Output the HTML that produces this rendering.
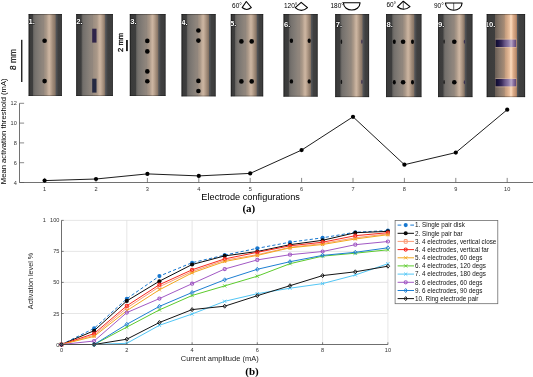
<!DOCTYPE html><html><head><meta charset="utf-8"><title>Electrode configurations</title>
<style>html,body{margin:0;padding:0;background:#fff}svg{display:block}text{font-family:"Liberation Sans",Arial,sans-serif}.ser{font-family:"Liberation Serif","Times New Roman",serif;font-weight:bold}</style></head><body>
<svg width="533" height="377" viewBox="0 0 533 377">
<rect width="533" height="377" fill="#fff"/>
<defs><linearGradient id="g0" x1="0" y1="0" x2="1" y2="0"><stop offset="0.0%" stop-color="#303030"/><stop offset="4.5%" stop-color="#3b3b3b"/><stop offset="11.7%" stop-color="#3e3e3e"/><stop offset="14.4%" stop-color="#64625f"/><stop offset="18.6%" stop-color="#74706c"/><stop offset="30.6%" stop-color="#827c76"/><stop offset="41.1%" stop-color="#8f857c"/><stop offset="45.6%" stop-color="#91867d"/><stop offset="46.5%" stop-color="#998c80"/><stop offset="53.2%" stop-color="#aa9888"/><stop offset="59.2%" stop-color="#c4ae9b"/><stop offset="62.2%" stop-color="#ccb5a1"/><stop offset="66.7%" stop-color="#bca591"/><stop offset="72.7%" stop-color="#a08b79"/><stop offset="79.9%" stop-color="#887565"/><stop offset="82.3%" stop-color="#54565a"/><stop offset="87.1%" stop-color="#464748"/><stop offset="88.9%" stop-color="#404040"/><stop offset="100.0%" stop-color="#3c3c3c"/></linearGradient><linearGradient id="g1" x1="0" y1="0" x2="1" y2="0"><stop offset="0.0%" stop-color="#303030"/><stop offset="4.1%" stop-color="#3b3b3b"/><stop offset="13.6%" stop-color="#3e3e3e"/><stop offset="16.1%" stop-color="#64625f"/><stop offset="19.9%" stop-color="#74706c"/><stop offset="30.8%" stop-color="#827c76"/><stop offset="40.3%" stop-color="#8f857c"/><stop offset="44.4%" stop-color="#91867d"/><stop offset="45.2%" stop-color="#998c80"/><stop offset="56.7%" stop-color="#aa9888"/><stop offset="62.1%" stop-color="#c4ae9b"/><stop offset="64.9%" stop-color="#ccb5a1"/><stop offset="68.9%" stop-color="#bca591"/><stop offset="74.4%" stop-color="#a08b79"/><stop offset="77.9%" stop-color="#887565"/><stop offset="80.1%" stop-color="#54565a"/><stop offset="84.5%" stop-color="#464748"/><stop offset="86.1%" stop-color="#404040"/><stop offset="100.0%" stop-color="#3c3c3c"/></linearGradient><linearGradient id="g2" x1="0" y1="0" x2="1" y2="0"><stop offset="0.0%" stop-color="#303030"/><stop offset="4.2%" stop-color="#3b3b3b"/><stop offset="16.5%" stop-color="#3e3e3e"/><stop offset="19.0%" stop-color="#64625f"/><stop offset="22.9%" stop-color="#74706c"/><stop offset="34.1%" stop-color="#827c76"/><stop offset="43.9%" stop-color="#8f857c"/><stop offset="48.0%" stop-color="#91867d"/><stop offset="48.9%" stop-color="#998c80"/><stop offset="55.3%" stop-color="#aa9888"/><stop offset="60.9%" stop-color="#c4ae9b"/><stop offset="63.7%" stop-color="#ccb5a1"/><stop offset="67.9%" stop-color="#bca591"/><stop offset="73.5%" stop-color="#a08b79"/><stop offset="78.5%" stop-color="#887565"/><stop offset="80.7%" stop-color="#54565a"/><stop offset="85.2%" stop-color="#464748"/><stop offset="86.9%" stop-color="#404040"/><stop offset="100.0%" stop-color="#3c3c3c"/></linearGradient><linearGradient id="g3" x1="0" y1="0" x2="1" y2="0"><stop offset="0.0%" stop-color="#303030"/><stop offset="4.4%" stop-color="#3b3b3b"/><stop offset="14.3%" stop-color="#3e3e3e"/><stop offset="17.0%" stop-color="#64625f"/><stop offset="21.1%" stop-color="#74706c"/><stop offset="32.7%" stop-color="#827c76"/><stop offset="43.0%" stop-color="#8f857c"/><stop offset="47.4%" stop-color="#91867d"/><stop offset="48.2%" stop-color="#998c80"/><stop offset="54.7%" stop-color="#aa9888"/><stop offset="60.5%" stop-color="#c4ae9b"/><stop offset="63.5%" stop-color="#ccb5a1"/><stop offset="67.8%" stop-color="#bca591"/><stop offset="73.7%" stop-color="#a08b79"/><stop offset="78.9%" stop-color="#887565"/><stop offset="81.3%" stop-color="#54565a"/><stop offset="86.0%" stop-color="#464748"/><stop offset="87.7%" stop-color="#404040"/><stop offset="100.0%" stop-color="#3c3c3c"/></linearGradient><linearGradient id="g4" x1="0" y1="0" x2="1" y2="0"><stop offset="0.0%" stop-color="#303030"/><stop offset="4.6%" stop-color="#3b3b3b"/><stop offset="11.7%" stop-color="#3e3e3e"/><stop offset="14.5%" stop-color="#64625f"/><stop offset="18.8%" stop-color="#74706c"/><stop offset="31.2%" stop-color="#827c76"/><stop offset="42.0%" stop-color="#8f857c"/><stop offset="46.6%" stop-color="#91867d"/><stop offset="47.5%" stop-color="#998c80"/><stop offset="53.1%" stop-color="#aa9888"/><stop offset="59.3%" stop-color="#c4ae9b"/><stop offset="62.3%" stop-color="#ccb5a1"/><stop offset="67.0%" stop-color="#bca591"/><stop offset="73.1%" stop-color="#a08b79"/><stop offset="78.7%" stop-color="#887565"/><stop offset="81.2%" stop-color="#54565a"/><stop offset="86.1%" stop-color="#464748"/><stop offset="88.0%" stop-color="#404040"/><stop offset="100.0%" stop-color="#3c3c3c"/></linearGradient><linearGradient id="g5" x1="0" y1="0" x2="1" y2="0"><stop offset="0.0%" stop-color="#303030"/><stop offset="4.4%" stop-color="#3b3b3b"/><stop offset="14.3%" stop-color="#3e3e3e"/><stop offset="17.0%" stop-color="#64625f"/><stop offset="21.1%" stop-color="#74706c"/><stop offset="32.7%" stop-color="#827c76"/><stop offset="43.0%" stop-color="#8f857c"/><stop offset="47.4%" stop-color="#91867d"/><stop offset="48.2%" stop-color="#998c80"/><stop offset="54.7%" stop-color="#aa9888"/><stop offset="60.5%" stop-color="#c4ae9b"/><stop offset="63.5%" stop-color="#ccb5a1"/><stop offset="67.8%" stop-color="#bca591"/><stop offset="73.7%" stop-color="#a08b79"/><stop offset="78.9%" stop-color="#887565"/><stop offset="81.3%" stop-color="#54565a"/><stop offset="86.0%" stop-color="#464748"/><stop offset="87.7%" stop-color="#404040"/><stop offset="100.0%" stop-color="#3c3c3c"/></linearGradient><linearGradient id="g6" x1="0" y1="0" x2="1" y2="0"><stop offset="0.0%" stop-color="#303030"/><stop offset="4.4%" stop-color="#3b3b3b"/><stop offset="14.2%" stop-color="#3e3e3e"/><stop offset="16.8%" stop-color="#64625f"/><stop offset="20.9%" stop-color="#74706c"/><stop offset="32.7%" stop-color="#827c76"/><stop offset="43.1%" stop-color="#8f857c"/><stop offset="47.5%" stop-color="#91867d"/><stop offset="48.4%" stop-color="#998c80"/><stop offset="53.7%" stop-color="#aa9888"/><stop offset="59.6%" stop-color="#c4ae9b"/><stop offset="62.5%" stop-color="#ccb5a1"/><stop offset="67.0%" stop-color="#bca591"/><stop offset="72.9%" stop-color="#a08b79"/><stop offset="79.4%" stop-color="#887565"/><stop offset="81.7%" stop-color="#54565a"/><stop offset="86.4%" stop-color="#464748"/><stop offset="88.2%" stop-color="#404040"/><stop offset="100.0%" stop-color="#3c3c3c"/></linearGradient><linearGradient id="g7" x1="0" y1="0" x2="1" y2="0"><stop offset="0.0%" stop-color="#303030"/><stop offset="4.2%" stop-color="#3b3b3b"/><stop offset="16.1%" stop-color="#3e3e3e"/><stop offset="18.6%" stop-color="#64625f"/><stop offset="22.6%" stop-color="#74706c"/><stop offset="33.9%" stop-color="#827c76"/><stop offset="43.8%" stop-color="#8f857c"/><stop offset="48.0%" stop-color="#91867d"/><stop offset="48.9%" stop-color="#998c80"/><stop offset="54.0%" stop-color="#aa9888"/><stop offset="59.6%" stop-color="#c4ae9b"/><stop offset="62.4%" stop-color="#ccb5a1"/><stop offset="66.7%" stop-color="#bca591"/><stop offset="72.3%" stop-color="#a08b79"/><stop offset="78.5%" stop-color="#887565"/><stop offset="80.8%" stop-color="#54565a"/><stop offset="85.3%" stop-color="#464748"/><stop offset="87.0%" stop-color="#404040"/><stop offset="100.0%" stop-color="#3c3c3c"/></linearGradient><linearGradient id="g8" x1="0" y1="0" x2="1" y2="0"><stop offset="0.0%" stop-color="#303030"/><stop offset="4.4%" stop-color="#3b3b3b"/><stop offset="14.2%" stop-color="#3e3e3e"/><stop offset="16.9%" stop-color="#64625f"/><stop offset="20.9%" stop-color="#74706c"/><stop offset="32.6%" stop-color="#827c76"/><stop offset="42.7%" stop-color="#8f857c"/><stop offset="47.1%" stop-color="#91867d"/><stop offset="48.0%" stop-color="#998c80"/><stop offset="53.2%" stop-color="#aa9888"/><stop offset="59.0%" stop-color="#c4ae9b"/><stop offset="61.9%" stop-color="#ccb5a1"/><stop offset="66.3%" stop-color="#bca591"/><stop offset="72.1%" stop-color="#a08b79"/><stop offset="76.2%" stop-color="#887565"/><stop offset="78.5%" stop-color="#54565a"/><stop offset="83.1%" stop-color="#464748"/><stop offset="84.9%" stop-color="#404040"/><stop offset="100.0%" stop-color="#3c3c3c"/></linearGradient><linearGradient id="g9" x1="0" y1="0" x2="1" y2="0"><stop offset="0.0%" stop-color="#303030"/><stop offset="3.9%" stop-color="#3b3b3b"/><stop offset="21.1%" stop-color="#3e3e3e"/><stop offset="22.9%" stop-color="#6c6057"/><stop offset="33.1%" stop-color="#88786b"/><stop offset="46.1%" stop-color="#a88c76"/><stop offset="47.4%" stop-color="#c09a7c"/><stop offset="52.9%" stop-color="#d4a988"/><stop offset="59.4%" stop-color="#eac09e"/><stop offset="63.3%" stop-color="#fcdcc0"/><stop offset="66.7%" stop-color="#ecc09e"/><stop offset="69.8%" stop-color="#d9aa88"/><stop offset="75.8%" stop-color="#c09070"/><stop offset="77.6%" stop-color="#b08464"/><stop offset="79.2%" stop-color="#565a60"/><stop offset="82.3%" stop-color="#484a4d"/><stop offset="83.9%" stop-color="#404040"/><stop offset="100.0%" stop-color="#3c3c3c"/></linearGradient><linearGradient id="sh" x1="0" y1="0" x2="0" y2="1"><stop offset="0" stop-color="#000" stop-opacity=".45"/><stop offset="1" stop-color="#000" stop-opacity="0"/></linearGradient><linearGradient id="ring" x1="0" y1="0" x2="1" y2="0"><stop offset="0" stop-color="#0e0b2c"/><stop offset=".13" stop-color="#1a1440"/><stop offset=".3" stop-color="#3a2c5c"/><stop offset=".46" stop-color="#6a5888"/><stop offset=".62" stop-color="#8c7aa6"/><stop offset=".76" stop-color="#b8a8c6"/><stop offset=".87" stop-color="#8a70a0"/><stop offset="1" stop-color="#5c4474"/></linearGradient></defs>
<rect x="28.6" y="14.0" width="33.3" height="82.0" fill="url(#g0)"/>
<rect x="28.6" y="14.0" width="33.3" height="1.6" fill="url(#sh)"/>
<rect x="28.6" y="14.0" width="0.9" height="82.0" fill="#000" opacity=".4"/>
<rect x="61.0" y="14.0" width="0.9" height="82.0" fill="#000" opacity=".3"/>
<rect x="28.6" y="95.1" width="33.3" height="0.9" fill="#000" opacity=".3"/>
<rect x="76.2" y="14.0" width="36.7" height="82.0" fill="url(#g1)"/>
<rect x="76.2" y="14.0" width="36.7" height="1.6" fill="url(#sh)"/>
<rect x="76.2" y="14.0" width="0.9" height="82.0" fill="#000" opacity=".4"/>
<rect x="112.0" y="14.0" width="0.9" height="82.0" fill="#000" opacity=".3"/>
<rect x="76.2" y="95.1" width="36.7" height="0.9" fill="#000" opacity=".3"/>
<rect x="129.8" y="14.0" width="35.8" height="82.0" fill="url(#g2)"/>
<rect x="129.8" y="14.0" width="35.8" height="1.6" fill="url(#sh)"/>
<rect x="129.8" y="14.0" width="0.9" height="82.0" fill="#000" opacity=".4"/>
<rect x="164.7" y="14.0" width="0.9" height="82.0" fill="#000" opacity=".3"/>
<rect x="129.8" y="95.1" width="35.8" height="0.9" fill="#000" opacity=".3"/>
<rect x="181.5" y="14.0" width="34.2" height="82.4" fill="url(#g3)"/>
<rect x="181.5" y="14.0" width="34.2" height="1.6" fill="url(#sh)"/>
<rect x="181.5" y="14.0" width="0.9" height="82.4" fill="#000" opacity=".4"/>
<rect x="214.8" y="14.0" width="0.9" height="82.4" fill="#000" opacity=".3"/>
<rect x="181.5" y="95.5" width="34.2" height="0.9" fill="#000" opacity=".3"/>
<rect x="230.8" y="14.0" width="32.4" height="82.4" fill="url(#g4)"/>
<rect x="230.8" y="14.0" width="32.4" height="1.6" fill="url(#sh)"/>
<rect x="230.8" y="14.0" width="0.9" height="82.4" fill="#000" opacity=".4"/>
<rect x="262.3" y="14.0" width="0.9" height="82.4" fill="#000" opacity=".3"/>
<rect x="230.8" y="95.5" width="32.4" height="0.9" fill="#000" opacity=".3"/>
<rect x="283.5" y="14.0" width="34.2" height="82.7" fill="url(#g5)"/>
<rect x="283.5" y="14.0" width="34.2" height="1.6" fill="url(#sh)"/>
<rect x="283.5" y="14.0" width="0.9" height="82.7" fill="#000" opacity=".4"/>
<rect x="316.8" y="14.0" width="0.9" height="82.7" fill="#000" opacity=".3"/>
<rect x="283.5" y="95.8" width="34.2" height="0.9" fill="#000" opacity=".3"/>
<rect x="335.2" y="14.0" width="33.9" height="83.1" fill="url(#g6)"/>
<rect x="335.2" y="14.0" width="33.9" height="1.6" fill="url(#sh)"/>
<rect x="335.2" y="14.0" width="0.9" height="83.1" fill="#000" opacity=".4"/>
<rect x="368.2" y="14.0" width="0.9" height="83.1" fill="#000" opacity=".3"/>
<rect x="335.2" y="96.2" width="33.9" height="0.9" fill="#000" opacity=".3"/>
<rect x="386.1" y="14.0" width="35.4" height="83.1" fill="url(#g7)"/>
<rect x="386.1" y="14.0" width="35.4" height="1.6" fill="url(#sh)"/>
<rect x="386.1" y="14.0" width="0.9" height="83.1" fill="#000" opacity=".4"/>
<rect x="420.6" y="14.0" width="0.9" height="83.1" fill="#000" opacity=".3"/>
<rect x="386.1" y="96.2" width="35.4" height="0.9" fill="#000" opacity=".3"/>
<rect x="438.1" y="14.0" width="34.4" height="83.1" fill="url(#g8)"/>
<rect x="438.1" y="14.0" width="34.4" height="1.6" fill="url(#sh)"/>
<rect x="438.1" y="14.0" width="0.9" height="83.1" fill="#000" opacity=".4"/>
<rect x="471.6" y="14.0" width="0.9" height="83.1" fill="#000" opacity=".3"/>
<rect x="438.1" y="96.2" width="34.4" height="0.9" fill="#000" opacity=".3"/>
<rect x="486.7" y="14.0" width="38.4" height="83.1" fill="url(#g9)"/>
<rect x="486.7" y="14.0" width="38.4" height="1.6" fill="url(#sh)"/>
<rect x="486.7" y="14.0" width="0.9" height="83.1" fill="#000" opacity=".4"/>
<rect x="524.2" y="14.0" width="0.9" height="83.1" fill="#000" opacity=".3"/>
<rect x="486.7" y="96.2" width="38.4" height="0.9" fill="#000" opacity=".3"/>
<ellipse cx="44.6" cy="40.7" rx="2.3" ry="2.3" fill="#050505"/>
<ellipse cx="44.6" cy="81.1" rx="2.3" ry="2.3" fill="#050505"/>
<rect x="92.2" y="28.7" width="4.3" height="13.9" fill="#30254a"/>
<rect x="92.2" y="78.7" width="4.3" height="13.9" fill="#262a42"/>
<ellipse cx="147.3" cy="40.9" rx="2.3" ry="2.3" fill="#050505"/>
<ellipse cx="147.3" cy="51.4" rx="2.3" ry="2.3" fill="#050505"/>
<ellipse cx="147.3" cy="71.4" rx="2.3" ry="2.3" fill="#050505"/>
<ellipse cx="147.3" cy="81.2" rx="2.3" ry="2.3" fill="#050505"/>
<ellipse cx="198.4" cy="30.5" rx="2.3" ry="2.3" fill="#050505"/>
<ellipse cx="198.4" cy="40.6" rx="2.3" ry="2.3" fill="#050505"/>
<ellipse cx="198.4" cy="80.9" rx="2.3" ry="2.3" fill="#050505"/>
<ellipse cx="198.4" cy="91.0" rx="2.3" ry="2.3" fill="#050505"/>
<ellipse cx="241.4" cy="41.4" rx="2.3" ry="2.3" fill="#050505"/>
<ellipse cx="251.7" cy="41.4" rx="2.3" ry="2.3" fill="#050505"/>
<ellipse cx="241.4" cy="81.4" rx="2.3" ry="2.3" fill="#050505"/>
<ellipse cx="251.7" cy="81.4" rx="2.3" ry="2.3" fill="#050505"/>
<ellipse cx="291.4" cy="40.7" rx="1.7" ry="2.2" fill="#050505"/>
<ellipse cx="309.2" cy="40.7" rx="1.6" ry="2.2" fill="#050505"/>
<ellipse cx="291.4" cy="81.4" rx="1.7" ry="2.2" fill="#050505"/>
<ellipse cx="309.2" cy="81.4" rx="1.6" ry="2.2" fill="#050505"/>
<ellipse cx="341.4" cy="41.7" rx="0.8" ry="2.2" fill="#151515"/>
<ellipse cx="361.9" cy="41.7" rx="0.7" ry="2.1" fill="#3a3052"/>
<ellipse cx="341.4" cy="81.9" rx="0.8" ry="2.2" fill="#151515"/>
<ellipse cx="361.9" cy="81.9" rx="0.7" ry="2.1" fill="#3a3052"/>
<ellipse cx="394.3" cy="41.7" rx="1.5" ry="2.2" fill="#050505"/>
<ellipse cx="403.1" cy="41.7" rx="2.3" ry="2.3" fill="#050505"/>
<ellipse cx="412.5" cy="41.7" rx="1.5" ry="2.2" fill="#050505"/>
<ellipse cx="394.3" cy="82.2" rx="1.5" ry="2.2" fill="#050505"/>
<ellipse cx="403.1" cy="82.2" rx="2.3" ry="2.3" fill="#050505"/>
<ellipse cx="412.5" cy="82.2" rx="1.5" ry="2.2" fill="#050505"/>
<ellipse cx="444.1" cy="41.7" rx="0.7" ry="2.1" fill="#1a1a1a"/>
<ellipse cx="454.3" cy="41.7" rx="2.3" ry="2.3" fill="#050505"/>
<ellipse cx="464.4" cy="41.7" rx="0.6" ry="2.0" fill="#3a3052"/>
<ellipse cx="444.1" cy="82.2" rx="0.7" ry="2.1" fill="#1a1a1a"/>
<ellipse cx="454.3" cy="82.2" rx="2.3" ry="2.3" fill="#050505"/>
<ellipse cx="464.4" cy="82.2" rx="0.6" ry="2.0" fill="#3a3052"/>
<rect x="495.5" y="38.7" width="20.9" height="9.3" fill="#f6d8b8" opacity=".45"/>
<rect x="495.5" y="39.6" width="20.7" height="7.5" fill="url(#ring)"/>
<rect x="495.5" y="78.0" width="20.9" height="9.3" fill="#f6d8b8" opacity=".45"/>
<rect x="495.5" y="78.9" width="20.7" height="7.5" fill="url(#ring)"/>
<clipPath id="c0"><rect x="28.6" y="14.0" width="33.3" height="82.0"/></clipPath>
<g clip-path="url(#c0)"><text x="28.6" y="23.9" font-size="7.7" font-weight="bold" fill="#fff" stroke="#151515" stroke-width=".9" paint-order="stroke" stroke-linejoin="round">1.</text></g>
<clipPath id="c1"><rect x="76.2" y="14.0" width="36.7" height="82.0"/></clipPath>
<g clip-path="url(#c1)"><text x="76.3" y="23.9" font-size="7.7" font-weight="bold" fill="#fff" stroke="#151515" stroke-width=".9" paint-order="stroke" stroke-linejoin="round">2.</text></g>
<clipPath id="c2"><rect x="129.8" y="14.0" width="35.8" height="82.0"/></clipPath>
<g clip-path="url(#c2)"><text x="130.2" y="24.1" font-size="7.7" font-weight="bold" fill="#fff" stroke="#151515" stroke-width=".9" paint-order="stroke" stroke-linejoin="round">3.</text></g>
<clipPath id="c3"><rect x="181.5" y="14.0" width="34.2" height="82.4"/></clipPath>
<g clip-path="url(#c3)"><text x="181.2" y="24.7" font-size="7.7" font-weight="bold" fill="#fff" stroke="#151515" stroke-width=".9" paint-order="stroke" stroke-linejoin="round">4.</text></g>
<clipPath id="c4"><rect x="230.8" y="14.0" width="32.4" height="82.4"/></clipPath>
<g clip-path="url(#c4)"><text x="230.0" y="25.8" font-size="7.7" font-weight="bold" fill="#fff" stroke="#151515" stroke-width=".9" paint-order="stroke" stroke-linejoin="round">5.</text></g>
<clipPath id="c5"><rect x="283.5" y="14.0" width="34.2" height="82.7"/></clipPath>
<g clip-path="url(#c5)"><text x="283.9" y="26.7" font-size="7.7" font-weight="bold" fill="#fff" stroke="#151515" stroke-width=".9" paint-order="stroke" stroke-linejoin="round">6.</text></g>
<clipPath id="c6"><rect x="335.2" y="14.0" width="33.9" height="83.1"/></clipPath>
<g clip-path="url(#c6)"><text x="335.8" y="26.7" font-size="7.7" font-weight="bold" fill="#fff" stroke="#151515" stroke-width=".9" paint-order="stroke" stroke-linejoin="round">7.</text></g>
<clipPath id="c7"><rect x="386.1" y="14.0" width="35.4" height="83.1"/></clipPath>
<g clip-path="url(#c7)"><text x="386.6" y="27.1" font-size="7.7" font-weight="bold" fill="#fff" stroke="#151515" stroke-width=".9" paint-order="stroke" stroke-linejoin="round">8.</text></g>
<clipPath id="c8"><rect x="438.1" y="14.0" width="34.4" height="83.1"/></clipPath>
<g clip-path="url(#c8)"><text x="438.1" y="27.1" font-size="7.7" font-weight="bold" fill="#fff" stroke="#151515" stroke-width=".9" paint-order="stroke" stroke-linejoin="round">9.</text></g>
<clipPath id="c9"><rect x="486.7" y="14.0" width="38.4" height="83.1"/></clipPath>
<g clip-path="url(#c9)"><text x="484.8" y="27.1" font-size="7.7" font-weight="bold" fill="#fff" stroke="#151515" stroke-width=".9" paint-order="stroke" stroke-linejoin="round">10.</text></g>
<rect x="21.1" y="39.8" width="1.3" height="42.2" fill="#111"/>
<text transform="translate(15.9,59.5) rotate(-90)" text-anchor="middle" font-size="8.3" fill="#111" stroke="#111" stroke-width=".2">8 mm</text>
<rect x="126.1" y="40" width="1.7" height="11.1" fill="#0a0a0a"/>
<text transform="translate(122.7,42.4) rotate(-90)" text-anchor="middle" font-size="7.6" fill="#0a0a0a" stroke="#0a0a0a" stroke-width=".3">2 mm</text>
<text x="232.1" y="7.6" font-size="6.5" fill="#000">60°</text>
<path d="M246.3 1.5 L242.2 7.5 Q246.7 11.4 251.3 7.5 Z" fill="none" stroke="#000" stroke-width="1.1" stroke-linejoin="round"/>
<text x="284" y="8" font-size="6.5" fill="#000">120°</text>
<path d="M301.2 2.3 L295.2 7.6 Q301.3 13.2 307.5 7.6 Z" fill="none" stroke="#000" stroke-width="1.1" stroke-linejoin="round"/>
<text x="330.5" y="7.7" font-size="6.5" fill="#000">180°</text>
<path d="M343.4 2.7 L360.1 2.7 C359.6 12.5 343.9 12.5 343.4 2.7 Z" fill="none" stroke="#000" stroke-width="1.1" stroke-linejoin="round"/>
<text x="386.4" y="6.9" font-size="6.5" fill="#000">60°</text>
<path d="M403.3 1.2 L397.4 6.8 Q403.7 11.8 410 6.6 Z" fill="none" stroke="#000" stroke-width="1.1" stroke-linejoin="round"/><path d="M403.3 1.2 V9.2" stroke="#000" stroke-width=".6"/>
<text x="434" y="8.2" font-size="6.5" fill="#000">90°</text>
<path d="M445.4 3 L462.1 3 C461.6 12.6 445.9 12.6 445.4 3 Z" fill="none" stroke="#000" stroke-width="1.1" stroke-linejoin="round"/><path d="M453.7 3 V10" stroke="#000" stroke-width=".6"/>
<path d="M19.5 103.3 V182.5 H533" fill="none" stroke="#585858" stroke-width=".85"/>
<path d="M19.5 182.5 h4.6" stroke="#585858" stroke-width=".7"/>
<text x="16.8" y="184.5" font-size="5.6" text-anchor="end" fill="#333">4</text>
<path d="M19.5 162.7 h4.6" stroke="#585858" stroke-width=".7"/>
<text x="16.8" y="164.7" font-size="5.6" text-anchor="end" fill="#333">6</text>
<path d="M19.5 142.9 h4.6" stroke="#585858" stroke-width=".7"/>
<text x="16.8" y="144.9" font-size="5.6" text-anchor="end" fill="#333">8</text>
<path d="M19.5 123.1 h4.6" stroke="#585858" stroke-width=".7"/>
<text x="16.8" y="125.1" font-size="5.6" text-anchor="end" fill="#333">10</text>
<path d="M19.5 103.3 h4.6" stroke="#585858" stroke-width=".7"/>
<text x="16.8" y="105.3" font-size="5.6" text-anchor="end" fill="#333">12</text>
<path d="M44.6 182.5 v-4.6" stroke="#585858" stroke-width=".7"/>
<text x="44.6" y="190.9" font-size="5.6" text-anchor="middle" fill="#333">1</text>
<path d="M96.0 182.5 v-4.6" stroke="#585858" stroke-width=".7"/>
<text x="96.0" y="190.9" font-size="5.6" text-anchor="middle" fill="#333">2</text>
<path d="M147.4 182.5 v-4.6" stroke="#585858" stroke-width=".7"/>
<text x="147.4" y="190.9" font-size="5.6" text-anchor="middle" fill="#333">3</text>
<path d="M198.8 182.5 v-4.6" stroke="#585858" stroke-width=".7"/>
<text x="198.8" y="190.9" font-size="5.6" text-anchor="middle" fill="#333">4</text>
<path d="M250.2 182.5 v-4.6" stroke="#585858" stroke-width=".7"/>
<text x="250.2" y="190.9" font-size="5.6" text-anchor="middle" fill="#333">5</text>
<path d="M301.6 182.5 v-4.6" stroke="#585858" stroke-width=".7"/>
<text x="301.6" y="190.9" font-size="5.6" text-anchor="middle" fill="#333">6</text>
<path d="M353.0 182.5 v-4.6" stroke="#585858" stroke-width=".7"/>
<text x="353.0" y="190.9" font-size="5.6" text-anchor="middle" fill="#333">7</text>
<path d="M404.4 182.5 v-4.6" stroke="#585858" stroke-width=".7"/>
<text x="404.4" y="190.9" font-size="5.6" text-anchor="middle" fill="#333">8</text>
<path d="M455.8 182.5 v-4.6" stroke="#585858" stroke-width=".7"/>
<text x="455.8" y="190.9" font-size="5.6" text-anchor="middle" fill="#333">9</text>
<path d="M507.2 182.5 v-4.6" stroke="#585858" stroke-width=".7"/>
<text x="507.2" y="190.9" font-size="5.6" text-anchor="middle" fill="#333">10</text>
<polyline points="44.6,180.6 96.0,179.0 147.4,173.9 198.8,175.9 250.2,173.4 301.6,150.1 353.0,116.8 404.4,164.7 455.8,152.6 507.2,109.7" fill="none" stroke="#111" stroke-width=".95"/>
<circle cx="44.6" cy="180.6" r="2.1" fill="#000"/>
<circle cx="96.0" cy="179.0" r="2.1" fill="#000"/>
<circle cx="147.4" cy="173.9" r="2.1" fill="#000"/>
<circle cx="198.8" cy="175.9" r="2.1" fill="#000"/>
<circle cx="250.2" cy="173.4" r="2.1" fill="#000"/>
<circle cx="301.6" cy="150.1" r="2.1" fill="#000"/>
<circle cx="353.0" cy="116.8" r="2.1" fill="#000"/>
<circle cx="404.4" cy="164.7" r="2.1" fill="#000"/>
<circle cx="455.8" cy="152.6" r="2.1" fill="#000"/>
<circle cx="507.2" cy="109.7" r="2.1" fill="#000"/>
<text transform="translate(6.0,131.3) rotate(-90)" text-anchor="middle" font-size="7.65" fill="#000">Mean activation threshold (mA)</text>
<text x="250.65" y="199.8" text-anchor="middle" font-size="9.2" fill="#000">Electrode configurations</text>
<text class="ser" x="248.8" y="211.5" text-anchor="middle" font-size="11" fill="#000">(a)</text>
<path d="M61.5 313.5 H387.9" stroke="#dfdfdf" stroke-width=".8"/>
<path d="M61.5 282.4 H387.9" stroke="#dfdfdf" stroke-width=".8"/>
<path d="M61.5 251.4 H387.9" stroke="#dfdfdf" stroke-width=".8"/>
<path d="M61.5 220.4 H387.9" stroke="#dfdfdf" stroke-width=".8"/>
<path d="M126.8 220.4 V344.5" stroke="#dfdfdf" stroke-width=".8"/>
<path d="M192.1 220.4 V344.5" stroke="#dfdfdf" stroke-width=".8"/>
<path d="M257.3 220.4 V344.5" stroke="#dfdfdf" stroke-width=".8"/>
<path d="M322.6 220.4 V344.5" stroke="#dfdfdf" stroke-width=".8"/>
<path d="M387.9 220.4 V344.5" stroke="#dfdfdf" stroke-width=".8"/>
<polyline points="61.5,344.5 94.1,328.4 126.8,298.7 159.4,276.1 192.1,262.7 224.7,255.1 257.3,248.3 290.0,242.2 322.6,237.8 355.3,232.2 387.9,230.6" fill="none" stroke="#1878d0" stroke-width="1.0" stroke-dasharray="3.2 2.2"/>
<circle cx="61.5" cy="344.5" r="2.05" fill="#1878d0"/>
<circle cx="94.1" cy="328.4" r="2.05" fill="#1878d0"/>
<circle cx="126.8" cy="298.7" r="2.05" fill="#1878d0"/>
<circle cx="159.4" cy="276.1" r="2.05" fill="#1878d0"/>
<circle cx="192.1" cy="262.7" r="2.05" fill="#1878d0"/>
<circle cx="224.7" cy="255.1" r="2.05" fill="#1878d0"/>
<circle cx="257.3" cy="248.3" r="2.05" fill="#1878d0"/>
<circle cx="290.0" cy="242.2" r="2.05" fill="#1878d0"/>
<circle cx="322.6" cy="237.8" r="2.05" fill="#1878d0"/>
<circle cx="355.3" cy="232.2" r="2.05" fill="#1878d0"/>
<circle cx="387.9" cy="230.6" r="2.05" fill="#1878d0"/>
<polyline points="61.5,344.5 94.1,330.7 126.8,300.9 159.4,281.2 192.1,264.5 224.7,255.9 257.3,251.5 290.0,244.7 322.6,240.3 355.3,232.7 387.9,231.4" fill="none" stroke="#0a0a0a" stroke-width="1.0"/>
<circle cx="61.5" cy="344.5" r="2.05" fill="#0a0a0a"/>
<circle cx="94.1" cy="330.7" r="2.05" fill="#0a0a0a"/>
<circle cx="126.8" cy="300.9" r="2.05" fill="#0a0a0a"/>
<circle cx="159.4" cy="281.2" r="2.05" fill="#0a0a0a"/>
<circle cx="192.1" cy="264.5" r="2.05" fill="#0a0a0a"/>
<circle cx="224.7" cy="255.9" r="2.05" fill="#0a0a0a"/>
<circle cx="257.3" cy="251.5" r="2.05" fill="#0a0a0a"/>
<circle cx="290.0" cy="244.7" r="2.05" fill="#0a0a0a"/>
<circle cx="322.6" cy="240.3" r="2.05" fill="#0a0a0a"/>
<circle cx="355.3" cy="232.7" r="2.05" fill="#0a0a0a"/>
<circle cx="387.9" cy="231.4" r="2.05" fill="#0a0a0a"/>
<polyline points="61.5,344.5 94.1,335.2 126.8,308.0 159.4,286.7 192.1,271.5 224.7,260.2 257.3,254.7 290.0,247.3 322.6,243.5 355.3,237.8 387.9,233.9" fill="none" stroke="#fa9a76" stroke-width="1.0"/>
<rect x="60.0" y="342.7" width="3" height="3.6" rx=".8" fill="none" stroke="#fa9a76" stroke-width="1.05"/>
<rect x="92.6" y="333.4" width="3" height="3.6" rx=".8" fill="none" stroke="#fa9a76" stroke-width="1.05"/>
<rect x="125.3" y="306.2" width="3" height="3.6" rx=".8" fill="none" stroke="#fa9a76" stroke-width="1.05"/>
<rect x="157.9" y="284.9" width="3" height="3.6" rx=".8" fill="none" stroke="#fa9a76" stroke-width="1.05"/>
<rect x="190.6" y="269.7" width="3" height="3.6" rx=".8" fill="none" stroke="#fa9a76" stroke-width="1.05"/>
<rect x="223.2" y="258.4" width="3" height="3.6" rx=".8" fill="none" stroke="#fa9a76" stroke-width="1.05"/>
<rect x="255.8" y="252.9" width="3" height="3.6" rx=".8" fill="none" stroke="#fa9a76" stroke-width="1.05"/>
<rect x="288.5" y="245.5" width="3" height="3.6" rx=".8" fill="none" stroke="#fa9a76" stroke-width="1.05"/>
<rect x="321.1" y="241.7" width="3" height="3.6" rx=".8" fill="none" stroke="#fa9a76" stroke-width="1.05"/>
<rect x="353.8" y="236.0" width="3" height="3.6" rx=".8" fill="none" stroke="#fa9a76" stroke-width="1.05"/>
<rect x="386.4" y="232.1" width="3" height="3.6" rx=".8" fill="none" stroke="#fa9a76" stroke-width="1.05"/>
<polyline points="61.5,344.5 94.1,333.6 126.8,305.8 159.4,284.7 192.1,269.8 224.7,258.9 257.3,252.3 290.0,245.8 322.6,242.2 355.3,235.7 387.9,232.7" fill="none" stroke="#f8281e" stroke-width="1.0"/>
<circle cx="61.5" cy="344.5" r="1.6" fill="none" stroke="#f8281e" stroke-width="1.05"/>
<circle cx="94.1" cy="333.6" r="1.6" fill="none" stroke="#f8281e" stroke-width="1.05"/>
<circle cx="126.8" cy="305.8" r="1.6" fill="none" stroke="#f8281e" stroke-width="1.05"/>
<circle cx="159.4" cy="284.7" r="1.6" fill="none" stroke="#f8281e" stroke-width="1.05"/>
<circle cx="192.1" cy="269.8" r="1.6" fill="none" stroke="#f8281e" stroke-width="1.05"/>
<circle cx="224.7" cy="258.9" r="1.6" fill="none" stroke="#f8281e" stroke-width="1.05"/>
<circle cx="257.3" cy="252.3" r="1.6" fill="none" stroke="#f8281e" stroke-width="1.05"/>
<circle cx="290.0" cy="245.8" r="1.6" fill="none" stroke="#f8281e" stroke-width="1.05"/>
<circle cx="322.6" cy="242.2" r="1.6" fill="none" stroke="#f8281e" stroke-width="1.05"/>
<circle cx="355.3" cy="235.7" r="1.6" fill="none" stroke="#f8281e" stroke-width="1.05"/>
<circle cx="387.9" cy="232.7" r="1.6" fill="none" stroke="#f8281e" stroke-width="1.05"/>
<polyline points="61.5,344.5 94.1,336.4 126.8,310.7 159.4,289.8 192.1,272.9 224.7,261.5 257.3,255.4 290.0,247.8 322.6,244.5 355.3,239.0 387.9,234.7" fill="none" stroke="#f2a81e" stroke-width="1.0"/>
<path d="M59.9 342.9 l3.2 3.2 m0 -3.2 l-3.2 3.2" fill="none" stroke="#f2a81e" stroke-width=".9"/>
<path d="M92.5 334.8 l3.2 3.2 m0 -3.2 l-3.2 3.2" fill="none" stroke="#f2a81e" stroke-width=".9"/>
<path d="M125.2 309.1 l3.2 3.2 m0 -3.2 l-3.2 3.2" fill="none" stroke="#f2a81e" stroke-width=".9"/>
<path d="M157.8 288.2 l3.2 3.2 m0 -3.2 l-3.2 3.2" fill="none" stroke="#f2a81e" stroke-width=".9"/>
<path d="M190.5 271.3 l3.2 3.2 m0 -3.2 l-3.2 3.2" fill="none" stroke="#f2a81e" stroke-width=".9"/>
<path d="M223.1 259.9 l3.2 3.2 m0 -3.2 l-3.2 3.2" fill="none" stroke="#f2a81e" stroke-width=".9"/>
<path d="M255.7 253.8 l3.2 3.2 m0 -3.2 l-3.2 3.2" fill="none" stroke="#f2a81e" stroke-width=".9"/>
<path d="M288.4 246.2 l3.2 3.2 m0 -3.2 l-3.2 3.2" fill="none" stroke="#f2a81e" stroke-width=".9"/>
<path d="M321.0 242.9 l3.2 3.2 m0 -3.2 l-3.2 3.2" fill="none" stroke="#f2a81e" stroke-width=".9"/>
<path d="M353.7 237.4 l3.2 3.2 m0 -3.2 l-3.2 3.2" fill="none" stroke="#f2a81e" stroke-width=".9"/>
<path d="M386.3 233.1 l3.2 3.2 m0 -3.2 l-3.2 3.2" fill="none" stroke="#f2a81e" stroke-width=".9"/>
<polyline points="61.5,344.5 94.1,344.5 126.8,327.1 159.4,309.9 192.1,295.5 224.7,285.9 257.3,276.2 290.0,263.7 322.6,256.1 355.3,253.2 387.9,249.8" fill="none" stroke="#5ccb2c" stroke-width="1.0"/>
<path d="M59.9 342.9 l3.2 3.2 m0 -3.2 l-3.2 3.2" fill="none" stroke="#5ccb2c" stroke-width=".9"/>
<path d="M92.5 342.9 l3.2 3.2 m0 -3.2 l-3.2 3.2" fill="none" stroke="#5ccb2c" stroke-width=".9"/>
<path d="M125.2 325.5 l3.2 3.2 m0 -3.2 l-3.2 3.2" fill="none" stroke="#5ccb2c" stroke-width=".9"/>
<path d="M157.8 308.3 l3.2 3.2 m0 -3.2 l-3.2 3.2" fill="none" stroke="#5ccb2c" stroke-width=".9"/>
<path d="M190.5 293.9 l3.2 3.2 m0 -3.2 l-3.2 3.2" fill="none" stroke="#5ccb2c" stroke-width=".9"/>
<path d="M223.1 284.3 l3.2 3.2 m0 -3.2 l-3.2 3.2" fill="none" stroke="#5ccb2c" stroke-width=".9"/>
<path d="M255.7 274.6 l3.2 3.2 m0 -3.2 l-3.2 3.2" fill="none" stroke="#5ccb2c" stroke-width=".9"/>
<path d="M288.4 262.1 l3.2 3.2 m0 -3.2 l-3.2 3.2" fill="none" stroke="#5ccb2c" stroke-width=".9"/>
<path d="M321.0 254.5 l3.2 3.2 m0 -3.2 l-3.2 3.2" fill="none" stroke="#5ccb2c" stroke-width=".9"/>
<path d="M353.7 251.6 l3.2 3.2 m0 -3.2 l-3.2 3.2" fill="none" stroke="#5ccb2c" stroke-width=".9"/>
<path d="M386.3 248.2 l3.2 3.2 m0 -3.2 l-3.2 3.2" fill="none" stroke="#5ccb2c" stroke-width=".9"/>
<polyline points="61.5,344.5 94.1,344.5 126.8,343.3 159.4,325.3 192.1,314.0 224.7,301.3 257.3,293.7 290.0,288.2 322.6,283.6 355.3,275.0 387.9,263.7" fill="none" stroke="#52c6f5" stroke-width="1.0"/>
<path d="M59.9 342.9 l3.2 3.2 m0 -3.2 l-3.2 3.2" fill="none" stroke="#52c6f5" stroke-width=".9"/>
<path d="M92.5 342.9 l3.2 3.2 m0 -3.2 l-3.2 3.2" fill="none" stroke="#52c6f5" stroke-width=".9"/>
<path d="M125.2 341.7 l3.2 3.2 m0 -3.2 l-3.2 3.2" fill="none" stroke="#52c6f5" stroke-width=".9"/>
<path d="M157.8 323.7 l3.2 3.2 m0 -3.2 l-3.2 3.2" fill="none" stroke="#52c6f5" stroke-width=".9"/>
<path d="M190.5 312.4 l3.2 3.2 m0 -3.2 l-3.2 3.2" fill="none" stroke="#52c6f5" stroke-width=".9"/>
<path d="M223.1 299.7 l3.2 3.2 m0 -3.2 l-3.2 3.2" fill="none" stroke="#52c6f5" stroke-width=".9"/>
<path d="M255.7 292.1 l3.2 3.2 m0 -3.2 l-3.2 3.2" fill="none" stroke="#52c6f5" stroke-width=".9"/>
<path d="M288.4 286.6 l3.2 3.2 m0 -3.2 l-3.2 3.2" fill="none" stroke="#52c6f5" stroke-width=".9"/>
<path d="M321.0 282.0 l3.2 3.2 m0 -3.2 l-3.2 3.2" fill="none" stroke="#52c6f5" stroke-width=".9"/>
<path d="M353.7 273.4 l3.2 3.2 m0 -3.2 l-3.2 3.2" fill="none" stroke="#52c6f5" stroke-width=".9"/>
<path d="M386.3 262.1 l3.2 3.2 m0 -3.2 l-3.2 3.2" fill="none" stroke="#52c6f5" stroke-width=".9"/>
<polyline points="61.5,344.5 94.1,341.0 126.8,312.6 159.4,298.6 192.1,283.7 224.7,269.0 257.3,259.9 290.0,254.7 322.6,251.5 355.3,244.7 387.9,241.5" fill="none" stroke="#a259c4" stroke-width="1.0"/>
<circle cx="61.5" cy="344.5" r="1.6" fill="none" stroke="#a259c4" stroke-width="1.05"/>
<circle cx="94.1" cy="341.0" r="1.6" fill="none" stroke="#a259c4" stroke-width="1.05"/>
<circle cx="126.8" cy="312.6" r="1.6" fill="none" stroke="#a259c4" stroke-width="1.05"/>
<circle cx="159.4" cy="298.6" r="1.6" fill="none" stroke="#a259c4" stroke-width="1.05"/>
<circle cx="192.1" cy="283.7" r="1.6" fill="none" stroke="#a259c4" stroke-width="1.05"/>
<circle cx="224.7" cy="269.0" r="1.6" fill="none" stroke="#a259c4" stroke-width="1.05"/>
<circle cx="257.3" cy="259.9" r="1.6" fill="none" stroke="#a259c4" stroke-width="1.05"/>
<circle cx="290.0" cy="254.7" r="1.6" fill="none" stroke="#a259c4" stroke-width="1.05"/>
<circle cx="322.6" cy="251.5" r="1.6" fill="none" stroke="#a259c4" stroke-width="1.05"/>
<circle cx="355.3" cy="244.7" r="1.6" fill="none" stroke="#a259c4" stroke-width="1.05"/>
<circle cx="387.9" cy="241.5" r="1.6" fill="none" stroke="#a259c4" stroke-width="1.05"/>
<polyline points="61.5,344.5 94.1,344.5 126.8,324.3 159.4,306.4 192.1,292.5 224.7,279.8 257.3,269.3 290.0,261.7 322.6,255.4 355.3,252.3 387.9,247.8" fill="none" stroke="#1e7fd2" stroke-width="1.0"/>
<path d="M61.5 342.5 l1.7 2.0 l-1.7 2.0 l-1.7 -2.0 Z" fill="none" stroke="#1e7fd2" stroke-width=".95"/>
<path d="M94.1 342.5 l1.7 2.0 l-1.7 2.0 l-1.7 -2.0 Z" fill="none" stroke="#1e7fd2" stroke-width=".95"/>
<path d="M126.8 322.3 l1.7 2.0 l-1.7 2.0 l-1.7 -2.0 Z" fill="none" stroke="#1e7fd2" stroke-width=".95"/>
<path d="M159.4 304.4 l1.7 2.0 l-1.7 2.0 l-1.7 -2.0 Z" fill="none" stroke="#1e7fd2" stroke-width=".95"/>
<path d="M192.1 290.5 l1.7 2.0 l-1.7 2.0 l-1.7 -2.0 Z" fill="none" stroke="#1e7fd2" stroke-width=".95"/>
<path d="M224.7 277.8 l1.7 2.0 l-1.7 2.0 l-1.7 -2.0 Z" fill="none" stroke="#1e7fd2" stroke-width=".95"/>
<path d="M257.3 267.3 l1.7 2.0 l-1.7 2.0 l-1.7 -2.0 Z" fill="none" stroke="#1e7fd2" stroke-width=".95"/>
<path d="M290.0 259.7 l1.7 2.0 l-1.7 2.0 l-1.7 -2.0 Z" fill="none" stroke="#1e7fd2" stroke-width=".95"/>
<path d="M322.6 253.4 l1.7 2.0 l-1.7 2.0 l-1.7 -2.0 Z" fill="none" stroke="#1e7fd2" stroke-width=".95"/>
<path d="M355.3 250.3 l1.7 2.0 l-1.7 2.0 l-1.7 -2.0 Z" fill="none" stroke="#1e7fd2" stroke-width=".95"/>
<path d="M387.9 245.8 l1.7 2.0 l-1.7 2.0 l-1.7 -2.0 Z" fill="none" stroke="#1e7fd2" stroke-width=".95"/>
<polyline points="61.5,344.5 94.1,344.5 126.8,339.2 159.4,322.5 192.1,309.6 224.7,306.2 257.3,295.7 290.0,285.7 322.6,275.6 355.3,271.8 387.9,266.2" fill="none" stroke="#141414" stroke-width="1.0"/>
<path d="M61.5 342.5 l1.7 2.0 l-1.7 2.0 l-1.7 -2.0 Z" fill="none" stroke="#141414" stroke-width=".95"/>
<path d="M94.1 342.5 l1.7 2.0 l-1.7 2.0 l-1.7 -2.0 Z" fill="none" stroke="#141414" stroke-width=".95"/>
<path d="M126.8 337.2 l1.7 2.0 l-1.7 2.0 l-1.7 -2.0 Z" fill="none" stroke="#141414" stroke-width=".95"/>
<path d="M159.4 320.5 l1.7 2.0 l-1.7 2.0 l-1.7 -2.0 Z" fill="none" stroke="#141414" stroke-width=".95"/>
<path d="M192.1 307.6 l1.7 2.0 l-1.7 2.0 l-1.7 -2.0 Z" fill="none" stroke="#141414" stroke-width=".95"/>
<path d="M224.7 304.2 l1.7 2.0 l-1.7 2.0 l-1.7 -2.0 Z" fill="none" stroke="#141414" stroke-width=".95"/>
<path d="M257.3 293.7 l1.7 2.0 l-1.7 2.0 l-1.7 -2.0 Z" fill="none" stroke="#141414" stroke-width=".95"/>
<path d="M290.0 283.7 l1.7 2.0 l-1.7 2.0 l-1.7 -2.0 Z" fill="none" stroke="#141414" stroke-width=".95"/>
<path d="M322.6 273.6 l1.7 2.0 l-1.7 2.0 l-1.7 -2.0 Z" fill="none" stroke="#141414" stroke-width=".95"/>
<path d="M355.3 269.8 l1.7 2.0 l-1.7 2.0 l-1.7 -2.0 Z" fill="none" stroke="#141414" stroke-width=".95"/>
<path d="M387.9 264.2 l1.7 2.0 l-1.7 2.0 l-1.7 -2.0 Z" fill="none" stroke="#141414" stroke-width=".95"/>
<path d="M61.5 220.4 V344.5 H387.9" fill="none" stroke="#555" stroke-width=".85"/>
<path d="M61.5 344.5 h2.2" stroke="#4a4a4a" stroke-width=".7"/>
<text x="59.4" y="346.5" font-size="5.6" text-anchor="end" fill="#333">0</text>
<path d="M61.5 313.5 h2.2" stroke="#4a4a4a" stroke-width=".7"/>
<text x="59.4" y="315.5" font-size="5.6" text-anchor="end" fill="#333">25</text>
<path d="M61.5 282.4 h2.2" stroke="#4a4a4a" stroke-width=".7"/>
<text x="59.4" y="284.4" font-size="5.6" text-anchor="end" fill="#333">50</text>
<path d="M61.5 251.4 h2.2" stroke="#4a4a4a" stroke-width=".7"/>
<text x="59.4" y="253.4" font-size="5.6" text-anchor="end" fill="#333">75</text>
<path d="M61.5 220.4 h2.2" stroke="#4a4a4a" stroke-width=".7"/>
<text x="59.4" y="222.4" font-size="5.6" text-anchor="end" fill="#333">100</text>
<path d="M61.5 344.5 v-2.2" stroke="#4a4a4a" stroke-width=".7"/>
<text x="61.5" y="352.4" font-size="5.6" text-anchor="middle" fill="#333">0</text>
<path d="M126.8 344.5 v-2.2" stroke="#4a4a4a" stroke-width=".7"/>
<text x="126.8" y="352.4" font-size="5.6" text-anchor="middle" fill="#333">2</text>
<path d="M192.1 344.5 v-2.2" stroke="#4a4a4a" stroke-width=".7"/>
<text x="192.1" y="352.4" font-size="5.6" text-anchor="middle" fill="#333">4</text>
<path d="M257.3 344.5 v-2.2" stroke="#4a4a4a" stroke-width=".7"/>
<text x="257.3" y="352.4" font-size="5.6" text-anchor="middle" fill="#333">6</text>
<path d="M322.6 344.5 v-2.2" stroke="#4a4a4a" stroke-width=".7"/>
<text x="322.6" y="352.4" font-size="5.6" text-anchor="middle" fill="#333">8</text>
<path d="M387.9 344.5 v-2.2" stroke="#4a4a4a" stroke-width=".7"/>
<text x="387.9" y="352.4" font-size="5.6" text-anchor="middle" fill="#333">10</text>
<text x="44.4" y="222.4" font-size="5.6" text-anchor="middle" fill="#333">1</text>
<text transform="translate(32.5,281) rotate(-90)" text-anchor="middle" font-size="7.2" fill="#222">Activation level %</text>
<text x="219.7" y="360.8" text-anchor="middle" font-size="7.5" fill="#222">Current amplitude (mA)</text>
<text class="ser" x="252" y="374.5" text-anchor="middle" font-size="11" fill="#000">(b)</text>
<rect x="395.1" y="220.5" width="102.7" height="83.2" fill="#fff" stroke="#666" stroke-width=".75"/>
<path d="M397.6 225.1 H414" stroke="#1878d0" stroke-width="1.0" stroke-dasharray="3.7 9 3.7"/>
<circle cx="405.7" cy="225.1" r="2.05" fill="#1878d0"/>
<text x="415.1" y="227.4" font-size="6.3" fill="#111">1. Single pair disk</text>
<path d="M397.6 233.3 H414" stroke="#0a0a0a" stroke-width="1.0"/>
<circle cx="405.7" cy="233.3" r="2.05" fill="#0a0a0a"/>
<text x="415.1" y="235.6" font-size="6.3" fill="#111">2. Single pair bar</text>
<path d="M397.6 241.4 H414" stroke="#fa9a76" stroke-width="1.0"/>
<rect x="404.2" y="239.6" width="3" height="3.6" rx=".8" fill="none" stroke="#fa9a76" stroke-width="1.05"/>
<text x="415.1" y="243.7" font-size="6.3" fill="#111">3. 4 electrodes, vertical close</text>
<path d="M397.6 249.6 H414" stroke="#f8281e" stroke-width="1.0"/>
<circle cx="405.7" cy="249.6" r="1.6" fill="none" stroke="#f8281e" stroke-width="1.05"/>
<text x="415.1" y="251.9" font-size="6.3" fill="#111">4. 4 electrodes, vertical far</text>
<path d="M397.6 257.8 H414" stroke="#f2a81e" stroke-width="1.0"/>
<path d="M404.1 256.2 l3.2 3.2 m0 -3.2 l-3.2 3.2" fill="none" stroke="#f2a81e" stroke-width=".9"/>
<text x="415.1" y="260.1" font-size="6.3" fill="#111">5. 4 electrodes, 60 degs</text>
<path d="M397.6 265.9 H414" stroke="#5ccb2c" stroke-width="1.0"/>
<path d="M404.1 264.3 l3.2 3.2 m0 -3.2 l-3.2 3.2" fill="none" stroke="#5ccb2c" stroke-width=".9"/>
<text x="415.1" y="268.2" font-size="6.3" fill="#111">6. 4 electrodes, 120 degs</text>
<path d="M397.6 274.1 H414" stroke="#52c6f5" stroke-width="1.0"/>
<path d="M404.1 272.5 l3.2 3.2 m0 -3.2 l-3.2 3.2" fill="none" stroke="#52c6f5" stroke-width=".9"/>
<text x="415.1" y="276.4" font-size="6.3" fill="#111">7. 4 electrodes, 180 degs</text>
<path d="M397.6 282.3 H414" stroke="#a259c4" stroke-width="1.0"/>
<circle cx="405.7" cy="282.3" r="1.6" fill="none" stroke="#a259c4" stroke-width="1.05"/>
<text x="415.1" y="284.6" font-size="6.3" fill="#111">8. 6 electrodes, 60 degs</text>
<path d="M397.6 290.5 H414" stroke="#1e7fd2" stroke-width="1.0"/>
<path d="M405.7 288.5 l1.7 2.0 l-1.7 2.0 l-1.7 -2.0 Z" fill="none" stroke="#1e7fd2" stroke-width=".95"/>
<text x="415.1" y="292.8" font-size="6.3" fill="#111">9. 6 electrodes, 90 degs</text>
<path d="M397.6 298.6 H414" stroke="#141414" stroke-width="1.0"/>
<path d="M405.7 296.6 l1.7 2.0 l-1.7 2.0 l-1.7 -2.0 Z" fill="none" stroke="#141414" stroke-width=".95"/>
<text x="415.1" y="300.9" font-size="6.3" fill="#111">10. Ring electrode pair</text>
</svg></body></html>
